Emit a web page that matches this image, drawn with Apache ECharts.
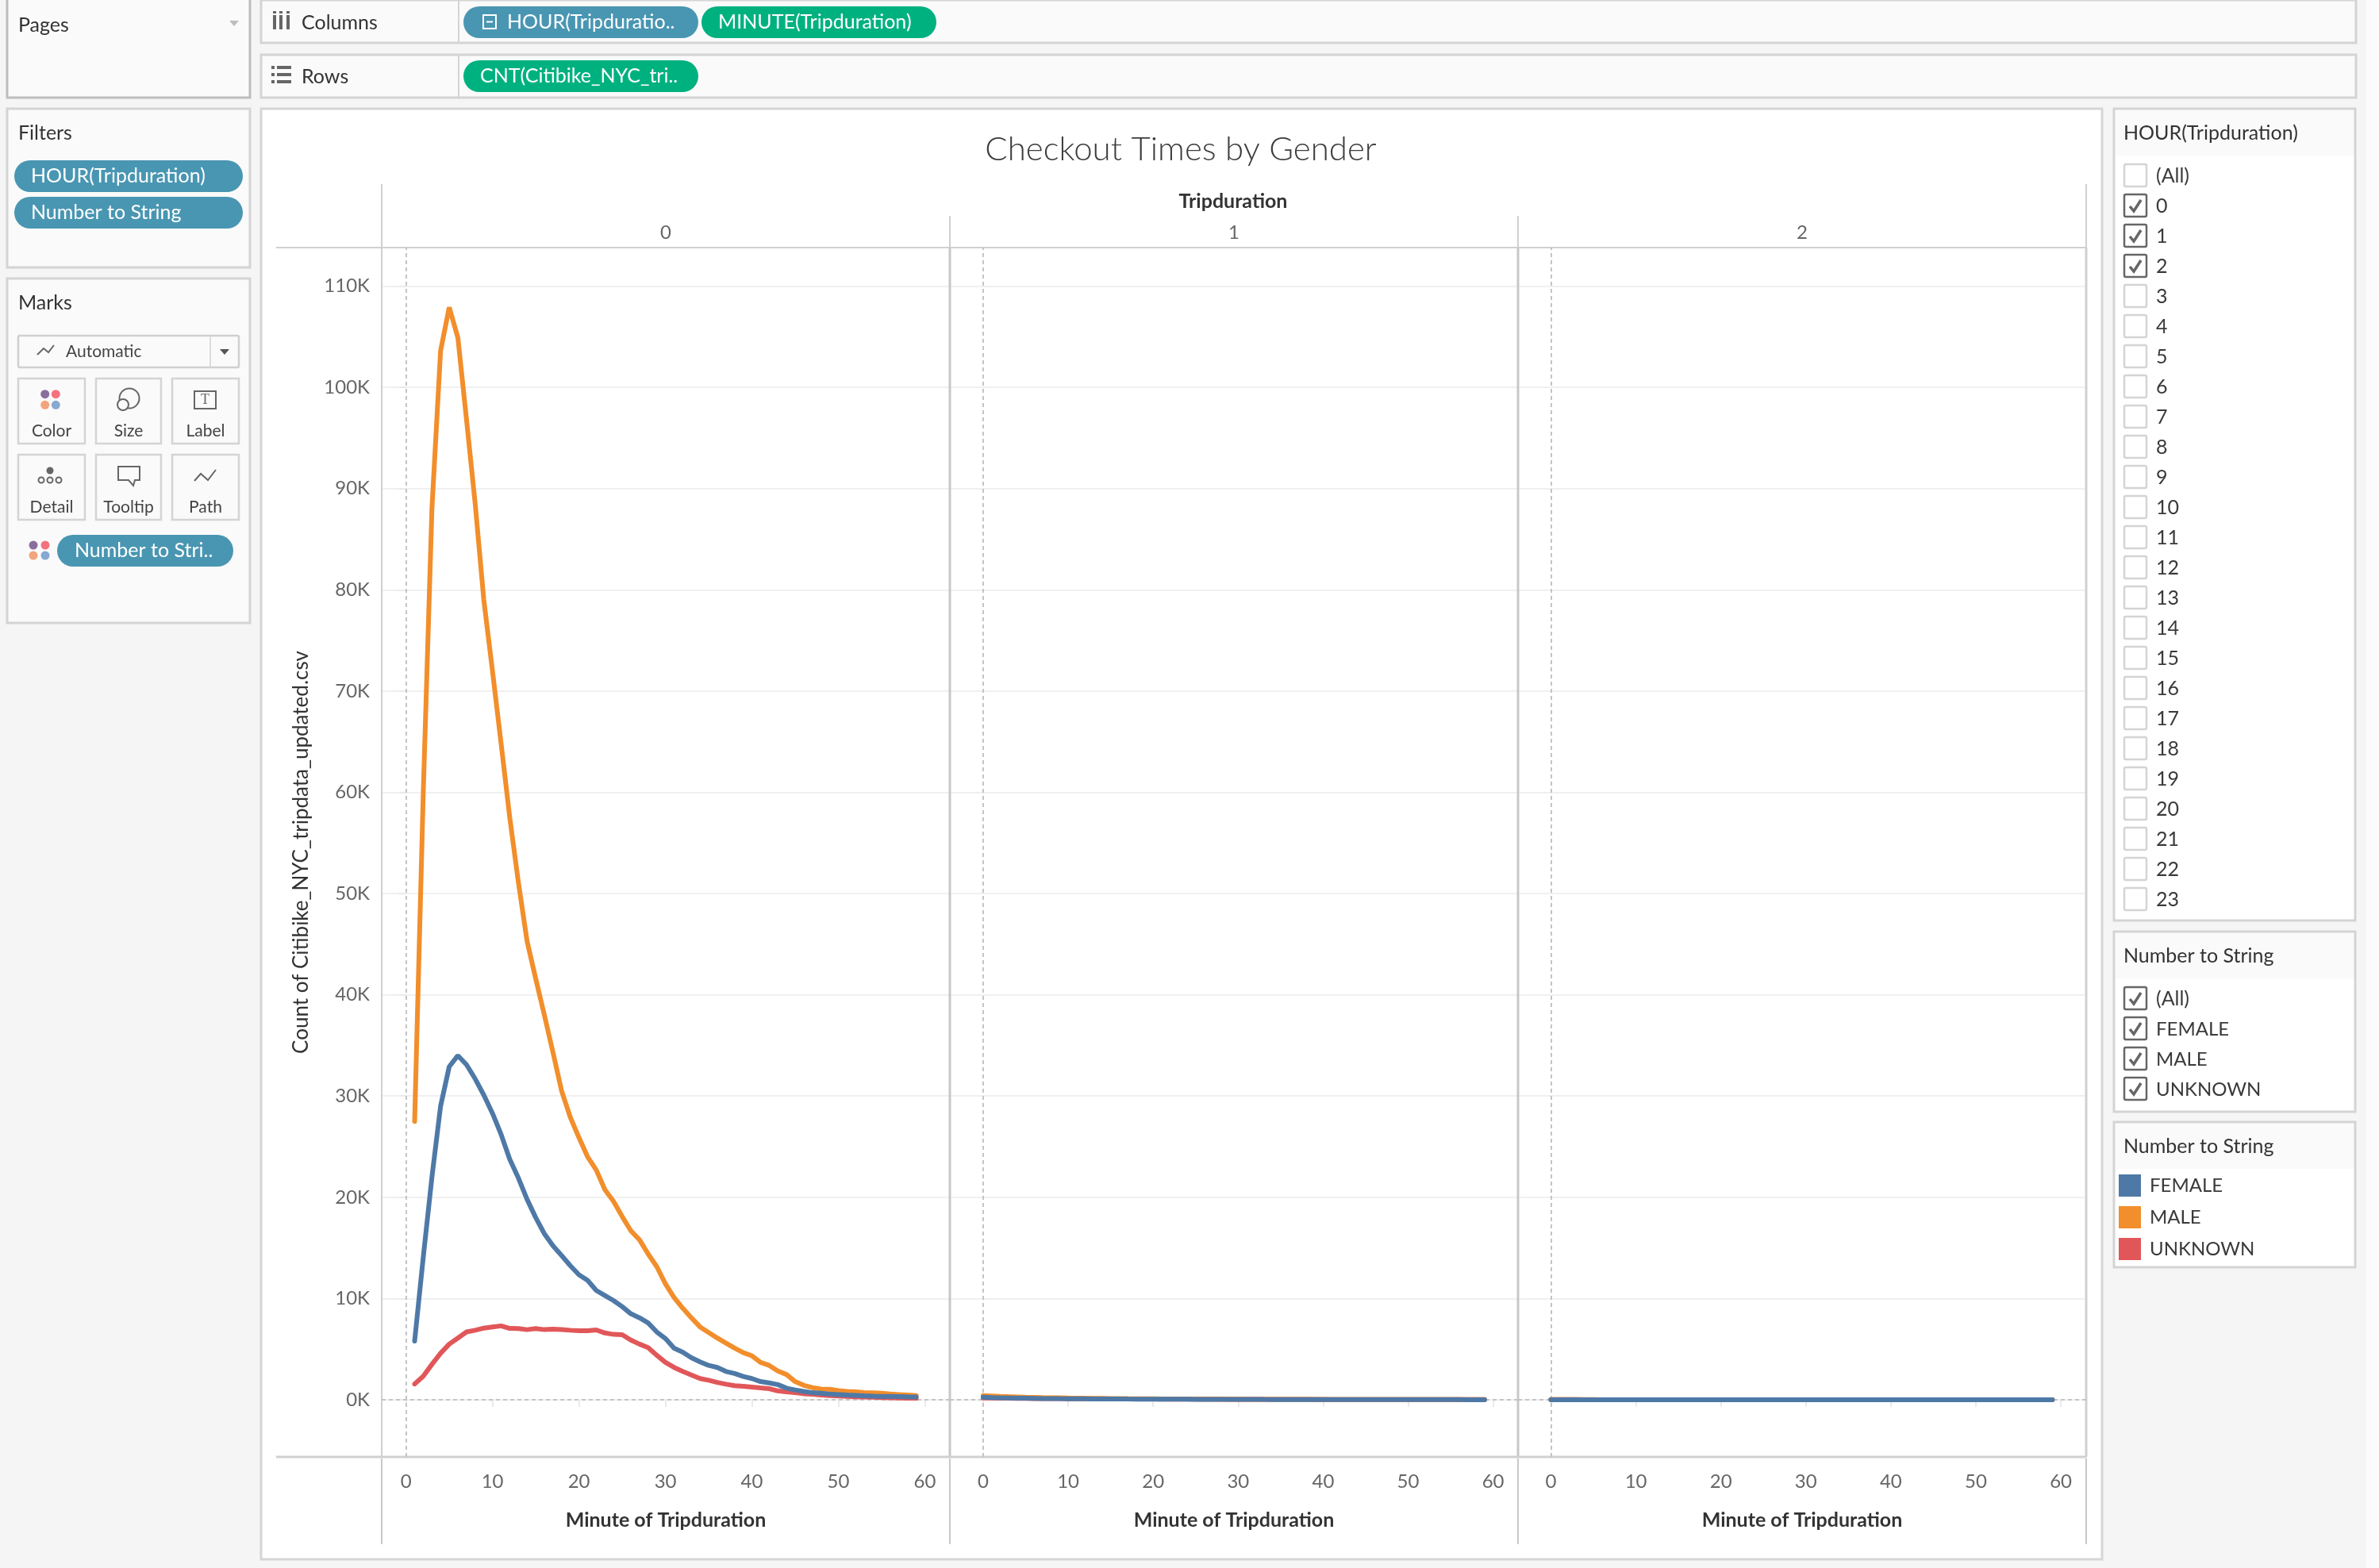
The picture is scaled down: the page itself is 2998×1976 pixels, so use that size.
<!DOCTYPE html>
<html>
<head>
<meta charset="utf-8">
<title>Checkout Times by Gender</title>
<style>
html, body { margin: 0; padding: 0; background: #f5f5f5; }
#main { width: 2998px; height: 1976px; }
</style>
<script src="https://cdn.jsdelivr.net/npm/echarts@6/dist/echarts.min.js"></script>
</head>
<body>
<div id="main"></div>
<script>
// data
var genders = ['FEMALE', 'MALE', 'UNKNOWN'];
var hourLabels = ['0', '1', '2'];
var hourFilter = ['0','1','2','3','4','5','6','7','8','9','10','11','12','13','14','15','16','17','18','19','20','21','22','23'];
var checkedHours = ['0', '1', '2'];
var genderFilter = ['(All)', 'FEMALE', 'MALE', 'UNKNOWN'];
var yTicks = [0, 10000, 20000, 30000, 40000, 50000, 60000, 70000, 80000, 90000, 100000, 110000];
var xTicks = [0, 10, 20, 30, 40, 50, 60];

// hour 0 starts at minute 1
var minutesHour0 = [1,2,3,4,5,6,7,8,9,10,11,12,13,14,15,16,17,18,19,20,21,22,23,24,25,26,27,28,29,30,31,32,33,34,35,36,37,38,39,40,41,42,43,44,45,46,47,48,49,50,51,52,53,54,55,56,57,58,59];
var femaleHour0 = [5800,14100,22000,29000,32900,34000,33100,31700,30100,28300,26200,23750,21900,19800,18000,16400,15200,14250,13250,12350,11800,10800,10300,9800,9200,8500,8100,7600,6700,6050,5100,4700,4150,3750,3400,3200,2800,2600,2300,2100,1800,1670,1500,1150,970,830,700,650,570,520,470,440,390,360,340,330,310,290,280];
var maleHour0 = [27500,60000,88000,103600,107900,104900,96800,88500,79000,72000,64800,57500,51100,45300,41600,38000,34300,30500,27900,25900,24000,22700,20750,19600,18100,16700,15800,14400,13150,11450,10100,9050,8100,7200,6650,6100,5600,5100,4650,4350,3700,3400,2850,2500,1800,1430,1200,1070,1040,900,830,780,700,680,650,570,520,470,420];
var unknownHour0 = [1560,2340,3500,4600,5500,6100,6700,6870,7080,7200,7300,7050,7030,6930,7030,6930,6980,6930,6870,6820,6820,6900,6600,6460,6430,5900,5500,5150,4400,3700,3200,2800,2450,2100,1930,1720,1540,1400,1330,1250,1170,1100,880,780,700,600,550,470,420,380,340,300,270,250,220,200,180,160,150];

// hours 1 and 2 run from minute 0
var minutesLater = [0,1,2,3,4,5,6,7,8,9,10,11,12,13,14,15,16,17,18,19,20,21,22,23,24,25,26,27,28,29,30,31,32,33,34,35,36,37,38,39,40,41,42,43,44,45,46,47,48,49,50,51,52,53,54,55,56,57,58,59];
var femaleHour1 = [250,215,190,175,160,150,140,130,125,115,110,100,95,90,85,80,78,72,70,66,62,60,56,54,52,48,46,44,42,40,38,36,35,33,32,30,29,28,27,25,24,23,22,21,20,19,19,18,17,16,16,15,15,14,14,13,13,12,12,11];
var maleHour1 = [420,380,340,310,285,260,240,220,205,190,175,165,150,145,135,125,120,112,105,100,95,90,85,80,78,72,68,65,62,58,55,52,50,47,45,43,40,38,37,35,34,32,30,29,28,26,25,24,23,22,21,20,19,19,18,17,17,16,15,15];
var unknownHour1 = [180,170,160,150,145,135,130,125,120,112,108,103,100,95,92,88,85,80,78,75,72,70,66,64,62,58,56,54,52,50,47,45,44,42,40,38,37,35,34,32,31,30,29,27,26,25,24,23,22,21,20,19,19,18,17,16,16,15,15,14];
var femaleHour2 = [11,10,10,9,10,9,9,8,9,8,8,7,8,7,7,7,6,7,6,6,6,5,6,5,5,5,6,5,5,4,5,4,4,4,5,4,4,4,3,4,3,4,3,3,3,3,4,3,3,3,3,2,3,3,2,3,2,3,2,2];
var maleHour2 = [16,15,14,14,13,13,12,12,11,12,11,10,10,10,9,9,9,8,9,8,8,8,7,8,7,7,7,6,7,6,6,6,6,5,6,5,5,5,5,5,4,5,4,4,4,4,4,4,3,4,3,3,3,3,3,3,3,2,3,2];
var unknownHour2 = [14,14,13,13,12,12,12,11,11,11,10,10,10,9,9,9,9,8,8,8,8,7,7,7,7,7,6,6,6,6,6,5,5,5,5,5,5,4,4,4,4,4,4,4,3,3,3,3,3,3,3,3,2,2,2,2,2,2,2,2];

var colors = { FEMALE: '#4e79a7', MALE: '#f28e2b', UNKNOWN: '#e15759' };
var font = 'Lato';
var lineGray = '#d0d0d0';

// panel layout
var plotTop = 312, plotBottom = 1836;
var panels = [
	{ left: 481, right: 1197, min: -2.81, max: 62.89 },
	{ left: 1197, right: 1913, min: -3.92, max: 62.93 },
	{ left: 1913, right: 2629, min: -3.87, max: 62.98 }
];
var chartSeries = [
	{ x: minutesHour0, FEMALE: femaleHour0, MALE: maleHour0, UNKNOWN: unknownHour0 },
	{ x: minutesLater, FEMALE: femaleHour1, MALE: maleHour1, UNKNOWN: unknownHour1 },
	{ x: minutesLater, FEMALE: femaleHour2, MALE: maleHour2, UNKNOWN: unknownHour2 }
];

// graphic helpers
var shapes = [];
function box(x, y, w, h, fill, stroke, lw, r, z) {
	shapes.push({ type: 'rect', z: z === undefined ? -1 : z, silent: true,
		shape: { x: x, y: y, width: w, height: h, r: r || 0 },
		style: { fill: fill, stroke: stroke || null, lineWidth: lw || 0 } });
}
function line(x1, y1, x2, y2, color, lw, z) {
	shapes.push({ type: 'line', z: z === undefined ? 1 : z, silent: true,
		shape: { x1: x1, y1: y1, x2: x2, y2: y2 },
		style: { stroke: color, lineWidth: lw || 2 } });
}
function label(str, x, y, size, color, align, weight) {
	shapes.push({ type: 'text', z: 3, silent: true,
		style: { text: str, x: x, y: y, fill: color || '#333', align: align || 'left', verticalAlign: 'middle',
			font: (weight || 'normal') + ' ' + (size || 25) + 'px ' + font } });
}
function poly(points, color, lw, fill) {
	shapes.push({ type: fill ? 'polygon' : 'polyline', z: 3, silent: true,
		shape: { points: points },
		style: fill ? { fill: fill } : { stroke: color, lineWidth: lw || 2, fill: null } });
}
function dot(x, y, r, fill, stroke) {
	shapes.push({ type: 'circle', z: 3, silent: true, shape: { cx: x, cy: y, r: r },
		style: { fill: fill || null, stroke: stroke || null, lineWidth: stroke ? 2 : 0 } });
}
function pill(x, y, w, h, color, str, textX) {
	box(x, y, w, h, color, null, 0, h / 2, 2);
	label(str, textX, y + h / 2, 25, '#fff');
}
function fourDots(x1, x2, y1, y2, r) {
	dot(x1, y1, r, '#8a6f9e'); dot(x2, y1, r, '#f4727f');
	dot(x1, y2, r, '#f2a57c'); dot(x2, y2, r, '#86a9d0');
}
function checkbox(y, str, on, size) {
	box(2677, y - 14, 28, 28, '#fff', on ? '#666' : '#d4d4d4', 2.5, 2);
	if (on) poly([[2684, y + 1], [2689, y + 7], [2698, y - 7]], '#666', 3.5);
	label(str, 2717, y + 1, size || 25, '#3a3a3a');
}
function card(y1, y2, headBottom, title) {
	box(2664, y1, 304, y2 - y1, '#fff', '#d4d4d4', 3);
	box(2666, y1 + 2, 300, headBottom - y1 - 2, '#fafafa');
	label(title, 2676, (y1 + headBottom) / 2 + 1, 25, '#333');
}

// left column
box(0, 0, 2998, 1976, '#f5f5f5', null, 0, 0, -2);
box(2982, 0, 16, 1976, '#fbfbfb', null, 0, 0, -2);
box(9, -2, 306, 125, '#fafafa', '#bdbdbd', 3);
label('Pages', 23, 32, 25);
poly([[289, 26], [301, 26], [295, 33]], null, 0, '#bdbdbd');

box(9, 137, 306, 200, '#fafafa', '#d4d4d4', 3);
label('Filters', 23, 168, 25);
pill(18, 202, 288, 40, '#4996b2', 'HOUR(Tripduration)', 39);
pill(18, 248, 288, 40, '#4996b2', 'Number to String', 39);

box(9, 351, 306, 434, '#fafafa', '#d4d4d4', 3);
label('Marks', 23, 382, 25);
box(23, 423, 278, 40, '#fafafa', '#d0d0d0', 2.5, 2);
line(265, 424, 265, 462, '#dcdcdc', 2, -1);
poly([[47, 447], [55, 439], [61, 444], [68, 435]], '#666', 2);
label('Automatic', 83, 443, 21, '#444');
poly([[277, 440], [289, 440], [283, 447]], null, 0, '#555');

var buttonCols = [[23, 84], [121, 82], [217, 84]];
var buttonRows = [[477, 82, 543], [573, 82, 639]];
var buttonNames = [['Color', 'Size', 'Label'], ['Detail', 'Tooltip', 'Path']];
buttonRows.forEach(function (row, i) {
	buttonCols.forEach(function (col, j) {
		box(col[0], row[0], col[1], row[1], '#fafafa', '#d4d4d4', 2.5);
		label(buttonNames[i][j], col[0] + col[1] / 2, row[2], 21, '#444', 'center');
	});
});
fourDots(56.7, 70.3, 496.7, 510.3, 5.5);
dot(163, 502, 12.5, null, '#666');
dot(155, 510, 7, '#fafafa', '#666');
box(245, 493, 27, 22, '#fafafa', '#666', 2, 0, 2);
shapes.push({ type: 'text', z: 3, silent: true, style: { text: 'T', x: 258.5, y: 504, align: 'center', verticalAlign: 'middle', fill: '#666', font: '18px "Liberation Serif"' } });
dot(63, 593, 4.5, '#666');
dot(52, 605, 3.5, null, '#666'); dot(63, 605, 3.5, null, '#666'); dot(74, 605, 3.5, null, '#666');
poly([[151, 588], [176, 588], [176, 605], [170, 605], [168, 612], [162, 605], [149, 605], [149, 588], [151, 588]], '#666', 2);
poly([[245, 606], [253, 597], [262, 605], [272, 592]], '#666', 2);
fourDots(42, 57, 687, 700, 5.5);
pill(72, 674, 222, 40, '#4996b2', 'Number to Stri..', 94);

// shelves
box(329, 0, 2640, 54, '#fafafa', '#d4d4d4', 3);
box(329, 69, 2640, 54, '#fafafa', '#d4d4d4', 3);
line(578, 0, 578, 54, '#d4d4d4', 2, -1);
line(578, 69, 578, 123, '#d4d4d4', 2, -1);
box(344, 19, 4, 18, '#666', null, 0, 0, 2); box(352, 19, 4, 18, '#666', null, 0, 0, 2); box(361, 19, 4, 18, '#666', null, 0, 0, 2);
box(344, 14, 4, 3, '#666', null, 0, 0, 2); box(352, 14, 4, 3, '#666', null, 0, 0, 2); box(361, 14, 4, 3, '#666', null, 0, 0, 2);
label('Columns', 380, 29, 25);
[85, 94, 103].forEach(function (y) {
	box(342, y - 2, 4, 4, '#666', null, 0, 0, 2);
	box(349, y - 2, 18, 4, '#666', null, 0, 0, 2);
});
label('Rows', 380, 97, 25);
pill(584, 8, 296, 40, '#4996b2', 'HOUR(Tripduratio..', 639);
box(609, 19, 16, 17, '#4996b2', '#fff', 2, 0, 3);
line(613, 27.5, 621, 27.5, '#fff', 2, 3);
pill(884, 8, 296, 40, '#00b180', 'MINUTE(Tripduration)', 905);
pill(584, 76, 296, 40, '#00b180', 'CNT(Citibike_NYC_tri..', 605);

// chart frame
box(329, 137, 2320, 1828, '#fff', '#d5d5d5', 3);
label('Checkout Times by Gender', 1488, 188, 42, '#3c3c3c', 'center', '300');
label('Tripduration', 1554, 254, 25, '#333', 'center', 'bold');
hourLabels.forEach(function (h, i) {
	label(h, (panels[i].left + panels[i].right) / 2, 293, 24, '#666', 'center');
});
line(348, 312, 2629, 312, lineGray, 2);
line(481, 232, 481, 312, lineGray, 2);
line(1197, 272, 1197, 312, lineGray, 2);
line(1913, 272, 1913, 312, lineGray, 2);
line(2629, 232, 2629, 312, lineGray, 2);
line(481, 312, 481, 1836, lineGray, 2);
line(1197, 312, 1197, 1836, '#c8c8c8', 3);
line(1913, 312, 1913, 1836, '#c8c8c8', 3);
line(2629, 312, 2629, 1836, lineGray, 3);
line(348, 1836, 2629, 1836, lineGray, 3);
[481, 1197, 1913, 2629].forEach(function (x) {
	line(x, 1838, x, 1946, '#c8c8c8', 2);
});

// right column
card(137, 1160, 196, 'HOUR(Tripduration)');
checkbox(221, '(All)', false);
hourFilter.forEach(function (h, i) {
	checkbox(259 + 38 * i, h, checkedHours.indexOf(h) >= 0);
});
card(1174, 1401, 1233, 'Number to String');
genderFilter.forEach(function (g, i) {
	checkbox(1258 + 38 * i, g, true, i === 0 ? 25 : 24);
});
card(1414, 1597, 1473, 'Number to String');

// one grid per hour
var grids = [], xAxes = [], yAxes = [], series = [];
panels.forEach(function (p, i) {
	grids.push({ left: p.left, width: p.right - p.left, top: plotTop, height: plotBottom - plotTop });
	xAxes.push({
		type: 'value', gridIndex: i, min: p.min, max: p.max,
		name: 'Minute of Tripduration', nameLocation: 'middle', nameGap: 67,
		nameTextStyle: { fontFamily: font, fontSize: 25, fontWeight: 'bold', color: '#333' },
		axisLine: { show: false },
		axisTick: { show: true, length: 9, customValues: xTicks, lineStyle: { color: '#eaeaea', width: 2 } },
		axisLabel: { customValues: xTicks, margin: 19, fontFamily: font, fontSize: 24, color: '#666' },
		splitLine: { show: false }
	});
	yAxes.push({
		type: 'value', gridIndex: i, min: -5640, max: 113800,
		name: i === 0 ? 'Count of Citibike_NYC_tripdata_updated.csv' : '',
		nameLocation: 'middle', nameGap: 88, nameRotate: 90,
		nameTextStyle: { fontFamily: font, fontSize: 26, color: '#333' },
		axisLine: { show: false },
		axisTick: { show: i === 0, length: 9, customValues: yTicks, lineStyle: { color: '#eaeaea', width: 2 } },
		axisLabel: {
			show: i === 0, customValues: yTicks, margin: 15, fontFamily: font, fontSize: 24, color: '#666',
			formatter: function (v) { return (v / 1000) + 'K'; }
		},
		splitLine: { show: true, lineStyle: { color: '#f0f0f0', width: 2 } }
	});
	// red first so the blue ends up on top like in the picture
	['UNKNOWN', 'MALE', 'FEMALE'].forEach(function (g, k) {
		var xs = chartSeries[i].x;
		var ys = chartSeries[i][g];
		var s = {
			name: g, type: 'line', xAxisIndex: i, yAxisIndex: i, z: 3 + k,
			showSymbol: false, silent: true,
			color: colors[g],
			itemStyle: { color: colors[g] },
			lineStyle: { color: colors[g], width: 6, cap: 'round', join: 'bevel' },
			data: xs.map(function (m, n) { return [m, ys[n]]; })
		};
		if (k === 0) {
			s.markLine = {
				silent: true, symbol: 'none', z: 1, label: { show: false },
				lineStyle: { color: '#c4c4c4', type: [5, 4], width: 2 },
				data: [{ yAxis: 0 }, { xAxis: 0 }]
			};
		}
		series.push(s);
	});
});

var myChart = echarts.init(document.getElementById('main'), null, { renderer: 'canvas', width: 2998, height: 1976 });
myChart.setOption({
	animation: false,
	backgroundColor: '#f5f5f5',
	grid: grids,
	xAxis: xAxes,
	yAxis: yAxes,
	series: series,
	legend: {
		orient: 'vertical', left: 2670, top: 1480, padding: 0, itemWidth: 28, itemHeight: 28, itemGap: 12,
		icon: 'rect', selectedMode: false, data: genders,
		textStyle: { fontFamily: font, fontSize: 24, color: '#3a3a3a', padding: [0, 0, 0, 6] }
	},
	graphic: { elements: shapes }
});
</script>
</body>
</html>
